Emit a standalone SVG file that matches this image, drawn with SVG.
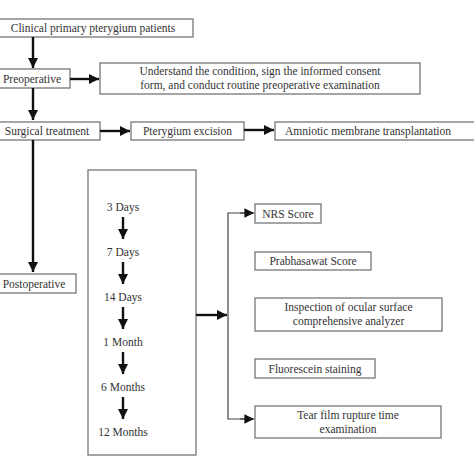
<svg xmlns="http://www.w3.org/2000/svg" width="474" height="474" viewBox="0 0 474 474">
<defs>
<style>
.box{fill:#fff;stroke:#777;stroke-width:1.3}
.t{font-family:"Liberation Serif","Times New Roman",serif;font-size:11.5px;fill:#333;text-anchor:middle}
.a{stroke:#111;stroke-width:2.4;fill:none}
.thin{stroke:#444;stroke-width:1.2;fill:none}
</style>
<marker id="ah" viewBox="0 0 10 10" refX="10" refY="5" markerWidth="4.2" markerHeight="4.2" markerUnits="strokeWidth" orient="auto">
<path d="M0,0 L10,5 L0,10 z" fill="#111"/>
</marker>
<marker id="ahs" viewBox="0 0 10 10" refX="10" refY="5" markerWidth="9" markerHeight="8" markerUnits="strokeWidth" orient="auto">
<path d="M0,0 L10,5 L0,10 z" fill="#111"/>
</marker>
</defs>
<rect width="474" height="474" fill="#fff"/>
<g id="n-clinical">
<rect class="box" x="-2" y="19" width="195" height="18"/>
<text class="t" x="93" y="32">Clinical primary pterygium patients</text>
</g>
<g id="n-preop">
<rect class="box" x="-2" y="69" width="72" height="19"/>
<text class="t" x="32" y="82.5">Preoperative</text>
</g>
<g id="n-understand">
<rect class="box" x="100" y="63" width="320" height="31"/>
<text class="t" x="260" y="75">Understand the condition, sign the informed consent</text>
<text class="t" x="260" y="88.5">form, and conduct routine preoperative examination</text>
</g>
<g id="n-surgical">
<rect class="box" x="-2" y="122" width="102" height="18"/>
<text class="t" x="47" y="135">Surgical treatment</text>
</g>
<g id="n-excision">
<rect class="box" x="131" y="122" width="113" height="18"/>
<text class="t" x="187.5" y="135">Pterygium excision</text>
</g>
<g id="n-amniotic">
<rect class="box" x="275" y="122" width="203" height="18"/>
<text class="t" x="368" y="135">Amniotic membrane transplantation</text>
</g>
<g id="n-postop">
<rect class="box" x="-2" y="274" width="78" height="19"/>
<text class="t" x="34" y="287.5">Postoperative</text>
</g>
<g id="n-timeline">
<rect class="box" x="88" y="170" width="108" height="285"/>
<text class="t" x="123" y="211">3 Days</text>
<text class="t" x="123" y="256">7 Days</text>
<text class="t" x="123" y="301">14 Days</text>
<text class="t" x="123" y="346">1 Month</text>
<text class="t" x="123" y="391">6 Months</text>
<text class="t" x="123" y="436">12 Months</text>
</g>
<g id="n-nrs">
<rect class="box" x="255" y="204" width="66" height="19"/>
<text class="t" x="288" y="217.5">NRS Score</text>
</g>
<g id="n-prab">
<rect class="box" x="255" y="252" width="116" height="18"/>
<text class="t" x="313" y="265">Prabhasawat Score</text>
</g>
<g id="n-inspection">
<rect class="box" x="255" y="298" width="187" height="33"/>
<text class="t" x="348.5" y="311">Inspection of ocular surface</text>
<text class="t" x="348.5" y="325">comprehensive analyzer</text>
</g>
<g id="n-fluor">
<rect class="box" x="255" y="359" width="120" height="19"/>
<text class="t" x="315" y="372.5">Fluorescein staining</text>
</g>
<g id="n-tear">
<rect class="box" x="255" y="406" width="186" height="32"/>
<text class="t" x="348" y="419">Tear film rupture time</text>
<text class="t" x="348" y="433">examination</text>
</g>
<g id="connectors">
<line class="a" x1="33" y1="37" x2="33" y2="68" marker-end="url(#ah)"/>
<line class="a" x1="70" y1="79" x2="99" y2="79" marker-end="url(#ah)"/>
<line class="a" x1="33" y1="88" x2="33" y2="120" marker-end="url(#ah)"/>
<line class="a" x1="100" y1="131" x2="130" y2="131" marker-end="url(#ah)"/>
<line class="a" x1="244" y1="130" x2="274" y2="130" marker-end="url(#ah)"/>
<line class="a" x1="33" y1="140" x2="33" y2="272" marker-end="url(#ah)"/>
<line class="a" x1="123" y1="217" x2="123" y2="239" marker-end="url(#ah)"/>
<line class="a" x1="123" y1="262" x2="123" y2="284" marker-end="url(#ah)"/>
<line class="a" x1="123" y1="307" x2="123" y2="329" marker-end="url(#ah)"/>
<line class="a" x1="123" y1="352" x2="123" y2="374" marker-end="url(#ah)"/>
<line class="a" x1="123" y1="397" x2="123" y2="419" marker-end="url(#ah)"/>
<line class="a" x1="196" y1="315" x2="227" y2="315" marker-end="url(#ah)"/>
<polyline class="thin" points="249,213 228,213 228,419 249,419"/>
<line class="thin" x1="240" y1="213" x2="254" y2="213" marker-end="url(#ahs)"/>
<line class="thin" x1="240" y1="419" x2="254" y2="419" marker-end="url(#ahs)"/>
</g>
</svg>
